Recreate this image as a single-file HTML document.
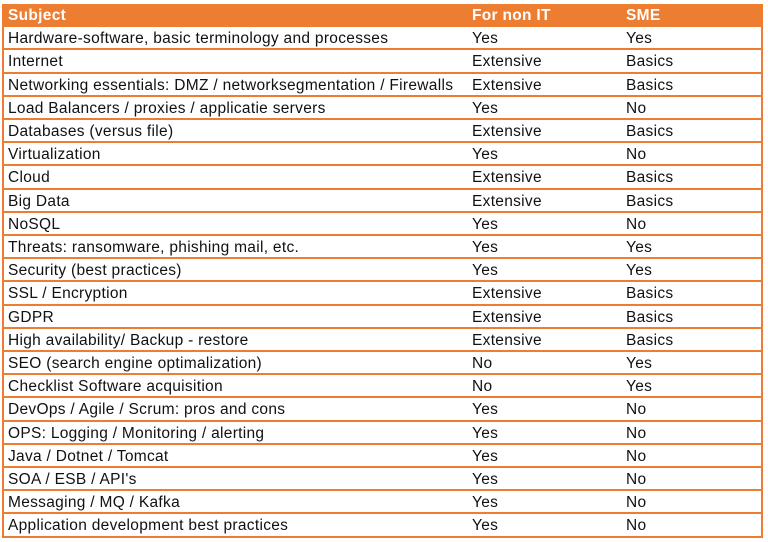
<!DOCTYPE html>
<html><head><style>
body{margin:0;width:768px;height:542px;background:#fff;overflow:hidden;font-family:"Liberation Sans",sans-serif;}
.t{position:absolute;left:2px;top:4px;width:761px;height:534px;border:2px solid #ED7D31;border-top:none;box-sizing:border-box;}
.r{position:absolute;left:0;width:757px;height:23.2px;border-bottom:2px solid #ED7D31;box-sizing:border-box;font-size:15.5px;line-height:23px;color:#111;letter-spacing:0.3px;}
.r span{position:absolute;top:0;white-space:nowrap;}
.a{left:4px}.b{left:468px}.c{left:622px}
.h{background:#ED7D31;color:#fff;font-weight:bold;}
</style></head><body><div class="t" id="t"></div>
<script>
var d=[["Subject","For non IT","SME"],
["Hardware-software, basic terminology and processes","Yes","Yes"],
["Internet","Extensive","Basics"],
["Networking essentials: DMZ / networksegmentation / Firewalls","Extensive","Basics"],
["Load Balancers / proxies / applicatie servers","Yes","No"],
["Databases (versus file)","Extensive","Basics"],
["Virtualization","Yes","No"],
["Cloud","Extensive","Basics"],
["Big Data","Extensive","Basics"],
["NoSQL","Yes","No"],
["Threats: ransomware, phishing mail, etc.","Yes","Yes"],
["Security (best practices)","Yes","Yes"],
["SSL / Encryption","Extensive","Basics"],
["GDPR","Extensive","Basics"],
["High availability/ Backup - restore","Extensive","Basics"],
["SEO (search engine optimalization)","No","Yes"],
["Checklist Software acquisition","No","Yes"],
["DevOps / Agile / Scrum: pros and cons","Yes","No"],
["OPS: Logging / Monitoring / alerting","Yes","No"],
["Java / Dotnet / Tomcat","Yes","No"],
["SOA / ESB / API's","Yes","No"],
["Messaging / MQ / Kafka","Yes","No"],
["Application development best practices","Yes","No"]];
var h="";
d.forEach(function(r,i){h+='<div class="r'+(i==0?' h':'')+'" style="top:'+(i*23.2)+'px'+(i==22?';border-bottom:none':'')+'"><span class="a">'+r[0]+'</span><span class="b">'+r[1]+'</span><span class="c">'+r[2]+'</span></div>';});
document.getElementById("t").innerHTML=h;
</script>
</body></html>
